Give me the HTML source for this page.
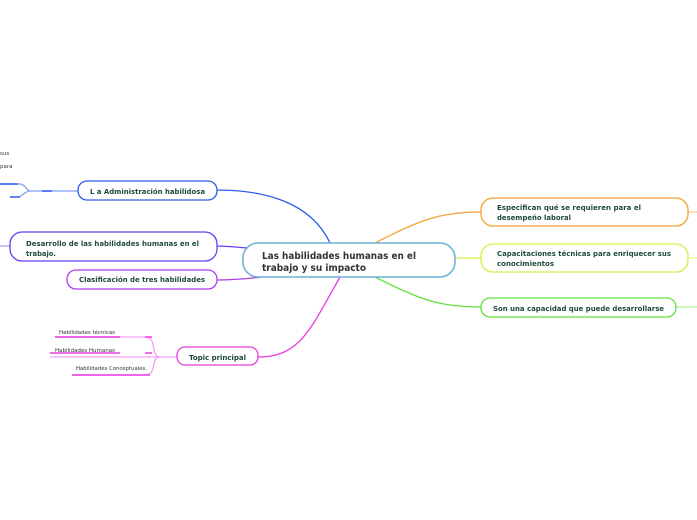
<!DOCTYPE html>
<html><head><meta charset="utf-8"><style>
body{margin:0;background:#fff;}
svg{display:block;font-family:"DejaVu Sans","Liberation Sans",sans-serif;font-weight:bold;}
</style></head><body>
<svg width="697" height="520" viewBox="0 0 697 520">
<g fill="none" stroke-width="1.3">
<path d="M330 243 C310 200 260 190 217 190" stroke="#2d5cf0"/>
<path d="M248 248 C235 247 225 246 217 246" stroke="#6a3cf0"/>
<path d="M262 277 C245 279 230 280 217 280" stroke="#b03ce8"/>
<path d="M340 277 C310 330 300 357 258 357" stroke="#e83ce0"/>
<path d="M375 243 C420 220 440 212 481 212" stroke="#f5a030"/>
<path d="M455 258 L481 258" stroke="#d8ee40"/>
<path d="M375 277 C420 300 440 307 481 307" stroke="#60e040"/>
<path d="M688 212 L697 212" stroke="#f8c890"/>
<path d="M688 258 L697 258" stroke="#e8f490"/>
<path d="M676 307 L697 307" stroke="#b0f090"/>
<path d="M78 191 L30 191 C25 191 22 197 18 197" stroke="#7fa0f5"/>
<path d="M0 184 L20 184 C25 184 27 191 30 191" stroke="#7fa0f5"/>
<path d="M0 184 L18 184 M10 197 L20 197 M42 191 L52 191" stroke="#2d5cf0" stroke-width="1.6"/>
<path d="M10 246 L0 246" stroke="#b0a0f5"/>
<path d="M177 357 L160 357 C150 357 158 337 145 337 L55 337" stroke="#f5a0f0"/>
<path d="M160 357 L50 357" stroke="#f5a0f0"/>
<path d="M160 357 C150 357 158 375 145 375 L72 375" stroke="#f5a0f0"/>
<path d="M55 337 L120 337 M145 337 L152 337 M50 353 L120 353 M145 353 L152 353 M72 375 L150 375" stroke="#e83ce0" stroke-width="1.4"/>
</g>
<g stroke-width="1.3" fill="#fff">
<rect x="243" y="243" width="212" height="34" rx="15" stroke="#6fb0d8" stroke-width="1.6"/>
<rect x="78" y="181" width="139" height="19" rx="9" stroke="#2d5cf0"/>
<rect x="10" y="232" width="207" height="29" rx="12" stroke="#6a3cf0"/>
<rect x="67" y="270" width="150" height="19" rx="9" stroke="#b03ce8"/>
<rect x="177" y="347" width="81" height="18" rx="8" stroke="#e83ce0"/>
<rect x="481" y="198" width="207" height="28" rx="12" stroke="#f5a030"/>
<rect x="481" y="244" width="207" height="28" rx="12" stroke="#d8ee40"/>
<rect x="481" y="298" width="195" height="19" rx="9" stroke="#60e040"/>
</g>
<g fill="#1d4a3a" font-size="7" lengthAdjust="spacingAndGlyphs">
<text x="262" y="259" font-size="9.5" fill="#333" textLength="154" lengthAdjust="spacingAndGlyphs">Las habilidades humanas en el</text>
<text x="262" y="271" font-size="9.5" fill="#333" textLength="104" lengthAdjust="spacingAndGlyphs">trabajo y su impacto</text>
<text x="90" y="194" textLength="115" lengthAdjust="spacingAndGlyphs">L a Administración habilidosa</text>
<text x="26" y="246" textLength="173" lengthAdjust="spacingAndGlyphs">Desarrollo de las habilidades humanas en el</text>
<text x="26" y="256" textLength="30" lengthAdjust="spacingAndGlyphs">trabajo.</text>
<text x="79" y="282" textLength="126" lengthAdjust="spacingAndGlyphs">Clasificación de tres habilidades</text>
<text x="189" y="360" textLength="57" lengthAdjust="spacingAndGlyphs">Topic principal</text>
<text x="497" y="210" textLength="144" lengthAdjust="spacingAndGlyphs">Especifican qué  se requieren para el</text>
<text x="497" y="220" textLength="74" lengthAdjust="spacingAndGlyphs">desempeño laboral</text>
<text x="497" y="256" textLength="174" lengthAdjust="spacingAndGlyphs">Capacitaciones técnicas para enriquecer sus</text>
<text x="497" y="266" textLength="57" lengthAdjust="spacingAndGlyphs">conocimientos</text>
<text x="493" y="311" textLength="171" lengthAdjust="spacingAndGlyphs">Son una capacidad que puede desarrollarse</text>
</g>
<g fill="#333" font-size="5.5" font-weight="normal">
<text x="59" y="334" textLength="56" lengthAdjust="spacingAndGlyphs">Habilidades técnicas</text>
<text x="55" y="352" textLength="60" lengthAdjust="spacingAndGlyphs">Habilidades Humanas</text>
<text x="76" y="370" textLength="71" lengthAdjust="spacingAndGlyphs">Habilidades Conceptuales.</text>
<text x="0" y="155">sus</text>
<text x="0" y="168">para</text>
</g>
</svg>
</body></html>
